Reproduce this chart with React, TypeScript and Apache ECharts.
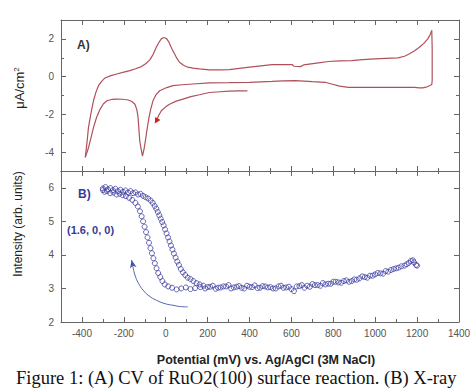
import React, { useEffect, useRef } from "react";
import * as echarts from "echarts";

// ---- Data ----
// Panel A: cyclic voltammogram, [potential mV, current µA/cm²]
const cvForward: number[][] = [
  [-384, -4.27], [-376, -3.5], [-369, -2.7], [-357, -1.95], [-345, -1.28], [-333, -0.82],
  [-321, -0.48], [-305, -0.24], [-290, -0.07], [-262, 0.05], [-234, 0.14], [-200, 0.24],
  [-171, 0.32], [-144, 0.42], [-116, 0.53], [-96, 0.68], [-76, 0.89], [-60, 1.18],
  [-45, 1.56], [-32, 1.82], [-21, 2.0], [-12, 2.06], [-5, 2.06], [5, 2.0], [15, 1.83],
  [28, 1.5], [42, 1.21], [54, 0.95], [66, 0.76], [85, 0.6], [105, 0.5], [130, 0.45],
  [161, 0.41], [208, 0.36], [260, 0.36], [303, 0.37], [400, 0.5], [508, 0.64], [603, 0.64],
  [612, 0.55], [643, 0.53], [658, 0.62], [720, 0.72], [777, 0.8], [830, 0.83], [887, 0.85],
  [940, 0.9], [998, 0.94], [1050, 0.97], [1109, 0.99], [1140, 1.08], [1164, 1.21],
  [1190, 1.38], [1211, 1.56], [1232, 1.76], [1251, 2.0], [1262, 2.22], [1270, 2.45],
];
const cvReverse: number[][] = [
  [1270, 2.45], [1272, 1.5], [1272, -0.2], [1270, -0.42], [1259, -0.48], [1243, -0.56],
  [1227, -0.6], [1210, -0.6], [1188, -0.57], [1000, -0.57], [872, -0.57], [830, -0.5],
  [792, -0.39], [761, -0.3], [700, -0.27], [619, -0.21], [560, -0.22], [508, -0.25],
  [400, -0.3], [303, -0.32], [208, -0.33], [129, -0.39], [80, -0.43], [34, -0.48],
  [5, -0.58], [-29, -0.75], [-46, -0.95], [-61, -1.28], [-71, -1.7], [-80, -2.17],
  [-88, -2.7], [-95, -3.24], [-103, -3.8], [-111, -4.21], [-118, -3.8], [-124, -3.41],
  [-128, -2.8], [-132, -2.17], [-138, -1.75], [-147, -1.46], [-162, -1.32], [-179, -1.24],
  [-205, -1.2], [-234, -1.19], [-258, -1.21], [-281, -1.28], [-298, -1.45], [-313, -1.72],
  [-330, -2.15], [-345, -2.7], [-357, -3.25], [-369, -3.77], [-377, -4.05], [-384, -4.27],
];
const cvInitial: number[][] = [
  [-45, -2.35], [-33, -2.05], [-21, -1.81], [0, -1.6], [18, -1.46], [50, -1.3], [82, -1.19],
  [120, -1.06], [161, -0.96], [208, -0.84], [260, -0.8], [303, -0.77], [350, -0.76], [390, -0.75],
];

// Panel B: X-ray intensity at (1.6, 0, 0), [potential mV, intensity]
const xrayScanUp: number[][] = [
  [-300, 5.98], [-288, 6.02], [-276, 5.95], [-264, 5.99], [-252, 5.93], [-240, 5.97],
  [-228, 5.9], [-216, 5.94], [-204, 5.88], [-192, 5.92], [-180, 5.86], [-168, 5.9],
  [-156, 5.84], [-144, 5.86], [-132, 5.8], [-120, 5.82], [-108, 5.76], [-96, 5.72],
  [-84, 5.68], [-72, 5.62], [-62, 5.55], [-53, 5.46], [-45, 5.38], [-38, 5.28],
  [-31, 5.18], [-24, 5.08], [-17, 4.98], [-10, 4.88], [-3, 4.76], [4, 4.64], [11, 4.52],
  [18, 4.4], [25, 4.28], [32, 4.16], [39, 4.04], [47, 3.92], [55, 3.8], [63, 3.7],
  [72, 3.58], [82, 3.48], [93, 3.4], [105, 3.32], [118, 3.28], [132, 3.22], [147, 3.16],
  [162, 3.12], [180, 3.08], [200, 3.04], [225, 3.08], [250, 3.02], [275, 3.06], [300, 3.1],
  [325, 3.03], [350, 3.07], [375, 3.0], [400, 3.05], [425, 3.09], [450, 3.02], [475, 3.06],
  [500, 3.04], [525, 3.0], [550, 3.08], [575, 3.03], [600, 2.98], [625, 3.06], [650, 3.1],
  [675, 3.08], [700, 3.13], [725, 3.1], [750, 3.16], [775, 3.14], [800, 3.2], [825, 3.18],
  [850, 3.22], [875, 3.2], [900, 3.27], [925, 3.3], [950, 3.34], [975, 3.38], [1000, 3.42],
  [1025, 3.45], [1050, 3.52], [1075, 3.55], [1100, 3.6], [1125, 3.66], [1150, 3.72],
  [1170, 3.82], [1185, 3.78], [1200, 3.68],
];
const xrayScanDown: number[][] = [
  [1195, 3.7], [1180, 3.84], [1160, 3.76], [1140, 3.68], [1112, 3.62], [1088, 3.58],
  [1062, 3.5], [1038, 3.44], [1012, 3.46], [988, 3.38], [962, 3.32], [938, 3.36],
  [912, 3.26], [888, 3.22], [862, 3.24], [838, 3.17], [812, 3.2], [788, 3.14], [762, 3.12],
  [738, 3.08], [712, 3.1], [688, 3.05], [662, 3.02], [638, 3.07], [612, 2.92], [588, 3.05],
  [562, 3.02], [538, 3.06], [512, 3.0], [488, 3.03], [462, 3.07], [438, 3.01], [412, 3.04],
  [388, 3.08], [362, 3.02], [338, 3.05], [312, 3.0], [288, 3.06], [262, 3.03], [238, 2.99],
  [212, 3.05], [188, 3.0], [165, 3.04], [140, 3.01], [118, 2.98], [96, 3.03], [74, 3.0],
  [52, 2.97], [30, 3.02], [12, 3.06], [-5, 3.12], [-16, 3.22], [-26, 3.34], [-36, 3.46],
  [-44, 3.6], [-52, 3.75], [-59, 3.9], [-66, 4.05], [-73, 4.2], [-80, 4.36], [-87, 4.52],
  [-94, 4.68], [-101, 4.84], [-108, 5.0], [-115, 5.15], [-123, 5.3], [-133, 5.44],
  [-145, 5.55], [-160, 5.64], [-175, 5.7], [-190, 5.75], [-205, 5.78], [-220, 5.82],
  [-235, 5.8], [-250, 5.86], [-265, 5.84], [-280, 5.9], [-292, 5.88], [-300, 5.93],
];
const sweepGuide: number[][] = [
  [-163, 3.85], [-155, 3.6], [-147, 3.4], [-130, 3.15], [-108, 2.95], [-80, 2.78],
  [-45, 2.65], [0, 2.54], [34, 2.5], [70, 2.46], [105, 2.45],
];

// Axis ticks
const xMajorTicks = [-400, -200, 0, 200, 400, 600, 800, 1000, 1200, 1400];
const xMinorTicks = [-500, -300, -100, 100, 300, 500, 700, 900, 1100, 1300];
const yTopMajor = [-4, -2, 0, 2];
const yTopMinor = [-5, -3, -1, 1, 3];
const yBottomMajor = [2, 3, 4, 5, 6];
const yBottomMinor: number[] = [];

const AXIS_COLOR = "#666";
const LABEL_COLOR = "#555";
const FONT = "Liberation Sans, Arial, sans-serif";

function makeAxis(
  kind: "x" | "y",
  gridIndex: number,
  position: string,
  min: number,
  max: number,
  ticks: number[],
  tickLen: number,
  showLine: boolean,
  labels: number[] | null
) {
  return {
    type: "value",
    gridIndex,
    position,
    min,
    max,
    scale: true,
    splitLine: { show: false },
    axisLine: { show: showLine, onZero: false, lineStyle: { color: AXIS_COLOR, width: 1 } },
    axisTick: {
      show: ticks.length > 0,
      inside: true,
      length: tickLen,
      customValues: ticks,
      lineStyle: { color: AXIS_COLOR, width: 1 },
    },
    axisLabel: labels
      ? {
          show: true,
          customValues: labels,
          formatter: (v: number) => String(v),
          color: LABEL_COLOR,
          fontSize: 10,
          fontFamily: FONT,
          margin: kind === "x" ? 6 : 7,
        }
      : { show: false },
  };
}

export default function App() {
  const ref = useRef<HTMLDivElement>(null);
  useEffect(() => {
    if (!ref.current) return;
    const chart = echarts.init(ref.current, null, { renderer: "svg" });

    const xAxes = [
      // grid 0
      makeAxis("x", 0, "bottom", -500, 1400, xMajorTicks, 5, true, null),
      makeAxis("x", 0, "bottom", -500, 1400, xMinorTicks, 3, false, null),
      makeAxis("x", 0, "top", -500, 1400, xMajorTicks, 5, true, null),
      makeAxis("x", 0, "top", -500, 1400, xMinorTicks, 3, false, null),
      // grid 1
      makeAxis("x", 1, "bottom", -500, 1400, xMajorTicks, 5, true, xMajorTicks),
      makeAxis("x", 1, "bottom", -500, 1400, xMinorTicks, 3, false, null),
      makeAxis("x", 1, "top", -500, 1400, xMajorTicks, 5, true, null),
      makeAxis("x", 1, "top", -500, 1400, xMinorTicks, 3, false, null),
    ];
    const yAxes = [
      makeAxis("y", 0, "left", -5, 3, yTopMajor, 5, true, yTopMajor),
      makeAxis("y", 0, "left", -5, 3, yTopMinor, 3, false, null),
      makeAxis("y", 0, "right", -5, 3, yTopMajor, 5, true, null),
      makeAxis("y", 0, "right", -5, 3, yTopMinor, 3, false, null),
      makeAxis("y", 1, "left", 2, 6.5, yBottomMajor, 5, true, yBottomMajor),
      makeAxis("y", 1, "left", 2, 6.5, yBottomMinor, 3, false, null),
      makeAxis("y", 1, "right", 2, 6.5, yBottomMajor, 5, true, null),
      makeAxis("y", 1, "right", 2, 6.5, yBottomMinor, 3, false, null),
    ];

    const red = "#b0505a";
    const blue = "#3f3fa0";

    chart.setOption({
      animation: false,
      backgroundColor: "#ffffff",
      grid: [
        { left: 61, top: 20, width: 398, height: 151 },
        { left: 61, top: 171, width: 398, height: 151 },
      ],
      xAxis: xAxes,
      yAxis: yAxes,
      series: [
        {
          type: "line",
          xAxisIndex: 0,
          yAxisIndex: 0,
          data: cvForward,
          showSymbol: false,
          symbol: "none",
          lineStyle: { color: red, width: 1.2 },
        },
        {
          type: "line",
          xAxisIndex: 0,
          yAxisIndex: 0,
          data: cvReverse,
          showSymbol: false,
          symbol: "none",
          lineStyle: { color: red, width: 1.2 },
        },
        {
          type: "line",
          xAxisIndex: 0,
          yAxisIndex: 0,
          data: cvInitial.map((p, i) =>
            i === 0
              ? { value: p, symbol: "triangle", symbolSize: 6, symbolRotate: 150, itemStyle: { color: "#d02020" } }
              : { value: p, symbol: "none" }
          ),
          showSymbol: true,
          lineStyle: { color: red, width: 1.2 },
          itemStyle: { color: "#d02020" },
        },
        {
          type: "scatter",
          xAxisIndex: 4,
          yAxisIndex: 4,
          data: xrayScanUp,
          symbol: "circle",
          symbolSize: 5,
          itemStyle: { color: "rgba(255,255,255,0)", borderColor: blue, borderWidth: 1 },
        },
        {
          type: "scatter",
          xAxisIndex: 4,
          yAxisIndex: 4,
          data: xrayScanDown,
          symbol: "circle",
          symbolSize: 5,
          itemStyle: { color: "rgba(255,255,255,0)", borderColor: blue, borderWidth: 1 },
        },
        {
          type: "line",
          xAxisIndex: 4,
          yAxisIndex: 4,
          data: sweepGuide.map((p, i) =>
            i === 0
              ? { value: p, symbol: "arrow", symbolSize: [5, 8], symbolRotate: 12 }
              : { value: p, symbol: "none" }
          ),
          showSymbol: true,
          smooth: true,
          lineStyle: { color: "#5566b0", width: 1 },
          itemStyle: { color: "#4455a8" },
        },
      ],
      graphic: [
        {
          type: "text",
          x: 77,
          y: 45,
          style: { text: "A)", fill: "#333", font: `bold 12px ${FONT}`, verticalAlign: "middle" },
        },
        {
          type: "text",
          x: 78,
          y: 194,
          style: { text: "B)", fill: "#3a3a9a", font: `bold 12px ${FONT}`, verticalAlign: "middle" },
        },
        {
          type: "text",
          x: 67,
          y: 230,
          style: { text: "(1.6, 0, 0)", fill: "#3a3a9a", font: `bold 11px ${FONT}`, verticalAlign: "middle" },
        },
        {
          type: "text",
          x: 19,
          y: 88,
          rotation: Math.PI / 2,
          style: {
            text: "μA/cm{sup|2}",
            fill: "#222",
            font: `13px ${FONT}`,
            align: "center",
            verticalAlign: "middle",
            rich: { sup: { fontSize: 8, verticalAlign: "top", padding: [0, 0, 6, 0], fill: "#222" } },
          },
        },
        {
          type: "text",
          x: 18,
          y: 224,
          rotation: Math.PI / 2,
          style: {
            text: "Intensity (arb. units)",
            fill: "#222",
            font: `12px ${FONT}`,
            align: "center",
            verticalAlign: "middle",
          },
        },
        {
          type: "text",
          x: 266,
          y: 360,
          style: {
            text: "Potential (mV) vs. Ag/AgCl (3M NaCl)",
            fill: "#222",
            font: `bold 12.5px ${FONT}`,
            align: "center",
            verticalAlign: "middle",
          },
        },
        {
          type: "text",
          x: 16,
          y: 387,
          style: {
            text: "Figure 1: (A) CV of RuO2(100) surface reaction. (B) X-ray",
            fill: "#111",
            font: `18.5px "Liberation Serif", "Times New Roman", serif`,
            align: "left",
            verticalAlign: "bottom",
          },
        },
      ],
    });
    return () => chart.dispose();
  }, []);

  return <div ref={ref} style={{ width: 474, height: 388, position: "absolute", left: 0, top: 0 }} />;
}
